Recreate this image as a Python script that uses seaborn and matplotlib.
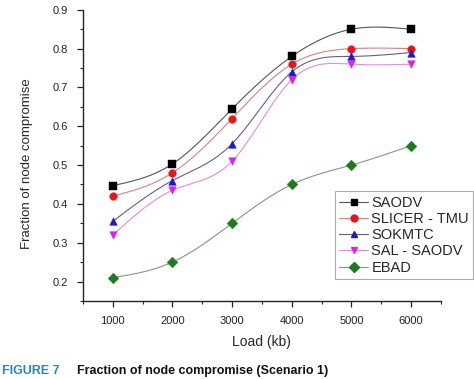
import numpy as np
import pandas as pd
import matplotlib
matplotlib.use("Agg")
import matplotlib.pyplot as plt
from matplotlib.lines import Line2D
from matplotlib.ticker import MultipleLocator
import seaborn as sns

load_kb = [1000, 2000, 3000, 4000, 5000, 6000]
saodv = [0.447, 0.503, 0.645, 0.780, 0.850, 0.850]
slicer_tmu = [0.420, 0.480, 0.620, 0.760, 0.800, 0.800]
sokmtc = [0.355, 0.460, 0.555, 0.740, 0.780, 0.790]
sal_saodv = [0.320, 0.435, 0.510, 0.720, 0.760, 0.760]
ebad = [0.210, 0.250, 0.350, 0.450, 0.500, 0.550]

series = [
    ("SAODV", saodv, "s", "#000000", "#555555"),
    ("SLICER - TMU", slicer_tmu, "o", "#e8141c", "#d98080"),
    ("SOKMTC", sokmtc, "^", "#1a1ad0", "#606090"),
    ("SAL - SAODV", sal_saodv, "v", "#e020e8", "#e08ae6"),
    ("EBAD", ebad, "D", "#1e7a1e", "#7a9e7a"),
]


def smooth(x, y, n=200):
    # natural cubic spline through the points (curve rendering only)
    x = np.asarray(x, float)
    y = np.asarray(y, float)
    k = len(x)
    h = np.diff(x)
    A = np.zeros((k, k))
    b = np.zeros(k)
    A[0, 0] = A[-1, -1] = 1
    for i in range(1, k - 1):
        A[i, i - 1] = h[i - 1]
        A[i, i] = 2 * (h[i - 1] + h[i])
        A[i, i + 1] = h[i]
        b[i] = 6 * ((y[i + 1] - y[i]) / h[i] - (y[i] - y[i - 1]) / h[i - 1])
    M = np.linalg.solve(A, b)
    xs = np.linspace(x[0], x[-1], n)
    idx = np.clip(np.searchsorted(x, xs) - 1, 0, k - 2)
    x0, x1 = x[idx], x[idx + 1]
    hh = x1 - x0
    t0, t1 = x1 - xs, xs - x0
    ys = (M[idx] * t0**3 + M[idx + 1] * t1**3) / (6 * hh) \
        + (y[idx] / hh - M[idx] * hh / 6) * t0 \
        + (y[idx + 1] / hh - M[idx + 1] * hh / 6) * t1
    return xs, ys


sns.set_style("ticks")
plt.rcParams["font.family"] = ["Liberation Sans", "DejaVu Sans"]

fig = plt.figure(figsize=(4.74, 3.79), dpi=100)
ax = fig.add_axes([0.175, 0.206, 0.755, 0.768])

handles = []
for name, vals, mk, mc, lc in series:
    xs, ys = smooth(load_kb, vals)
    sns.lineplot(x=xs, y=ys, ax=ax, color=lc, linewidth=0.8, sort=False)
    df = pd.DataFrame({"x": load_kb, "y": vals})
    sns.scatterplot(data=df, x="x", y="y", ax=ax, marker=mk, color=mc,
                    s=30, edgecolor=mc, linewidth=0.3, zorder=3)
    handles.append(Line2D([0], [0], color=lc, lw=0.8, marker=mk,
                          markerfacecolor=mc, markeredgecolor=mc, markersize=5))

ax.set_xlim(500, 6500)
ax.set_ylim(0.15, 0.9)
ax.xaxis.set_major_locator(MultipleLocator(1000))
ax.xaxis.set_minor_locator(MultipleLocator(500))
ax.yaxis.set_minor_locator(MultipleLocator(0.05))
ax.set_yticks([0.2, 0.3, 0.4, 0.5, 0.6, 0.7, 0.8, 0.9])
ax.tick_params(which="major", length=4, width=0.9, labelsize=8, pad=7, colors="#222222")
ax.tick_params(which="minor", length=2.2, width=0.8)
for s in ["left", "bottom"]:
    ax.spines[s].set_linewidth(1.0)
    ax.spines[s].set_color("#222222")
sns.despine(ax=ax)

ax.set_xlabel("Load (kb)", fontsize=10, labelpad=6)
ax.set_ylabel("Fraction of node compromise", fontsize=9.5)
ax.yaxis.set_label_coords(-0.14, 0.47)

leg = ax.legend(handles, [s[0] for s in series], loc="upper left",
                bbox_to_anchor=(0.704, 0.376), fontsize=10.5, frameon=True,
                fancybox=False, edgecolor="#999999", handlelength=2.0,
                handletextpad=0.2, labelspacing=0.15, borderpad=0.3,
                borderaxespad=0)
leg.get_frame().set_linewidth(0.8)

fig.text(0.004, 0.004, "FIGURE 7", color="#1a8ac8", fontsize=9,
         fontweight="bold", va="bottom")
fig.text(0.162, 0.004, "Fraction of node compromise (Scenario 1)", color="#111111",
         fontsize=9, fontweight="bold", va="bottom")

fig.savefig("out.png", dpi=100)
